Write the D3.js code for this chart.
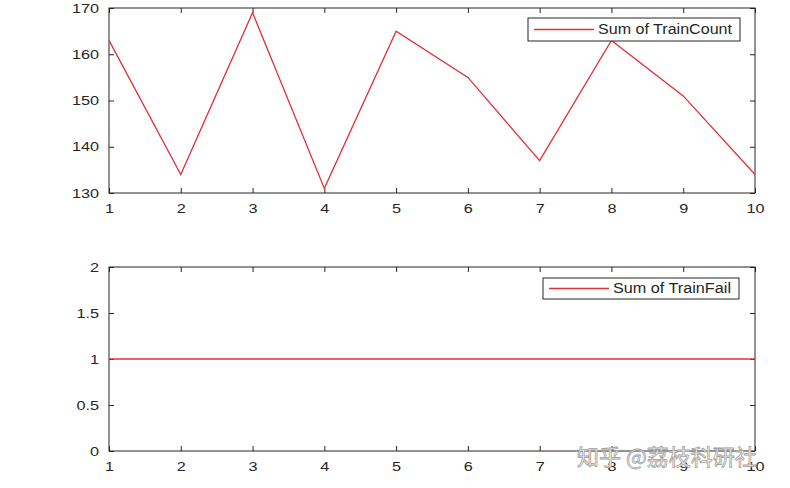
<!DOCTYPE html>
<html lang="en">
<head>
  <meta charset="UTF-8">
  <title>TrainCount / TrainFail</title>
  <script src="https://d3js.org/d3.v7.min.js"></script>
  <style>
    body { margin: 0; background: #fff; }
    svg { display: block; }
    .tick text { font: 13px "Liberation Sans", Arial, sans-serif; fill: #262626; }
    .legend text { font: 14px "Liberation Sans", Arial, sans-serif; fill: #262626; }
    .wm { font: 22px "Noto Sans CJK SC", sans-serif; fill: #fff; stroke: #a0a0a0; stroke-width: 0.8; }
  </style>
</head>
<body>
  <script>
    const xs = [1, 2, 3, 4, 5, 6, 7, 8, 9, 10];
    const trainCount = [163, 134, 169, 131, 165, 155, 137, 163, 151, 134];
    const trainFail = [1, 1, 1, 1, 1, 1, 1, 1, 1, 1];
    const countTicks = [130, 140, 150, 160, 170];
    const failTicks = [0, 0.5, 1, 1.5, 2];

    const W = 790, H = 488;
    const svg = d3.select("body").append("svg").attr("width", W).attr("height", H);

    const x = d3.scaleLinear().domain([1, 10]).range([109, 755]);
    const stretch = "scale(1.25,1)"; // the source picture is a bit wide

    function panel(top, bottom, domain, ticks, values, label, legendBox) {
      const y = d3.scaleLinear().domain(domain).range([bottom, top]);
      const g = svg.append("g");
      const axisCol = "#262626";
      const tl = 5;

      g.append("rect")
        .attr("x", x.range()[0]).attr("y", top)
        .attr("width", x.range()[1] - x.range()[0]).attr("height", bottom - top)
        .attr("fill", "none").attr("stroke", axisCol).attr("stroke-width", 1);

      // bottom + top ticks point inward like matlab
      const bx = g.append("g").attr("transform", `translate(0,${bottom})`)
        .call(d3.axisBottom(x).tickValues(xs).tickSizeInner(-tl).tickSizeOuter(0).tickPadding(11));
      const tx = g.append("g").attr("transform", `translate(0,${top})`)
        .call(d3.axisTop(x).tickValues(xs).tickSizeInner(-tl).tickSizeOuter(0).tickFormat(""));
      const ly = g.append("g").attr("transform", `translate(${x.range()[0]},0)`)
        .call(d3.axisLeft(y).tickValues(ticks).tickSizeInner(-tl).tickSizeOuter(0).tickPadding(8).tickFormat(d3.format("")));
      const ry = g.append("g").attr("transform", `translate(${x.range()[1]},0)`)
        .call(d3.axisRight(y).tickValues(ticks).tickSizeInner(-tl).tickSizeOuter(0).tickFormat(""));

      [bx, tx, ly, ry].forEach(a => {
        a.select(".domain").remove();
        a.selectAll("line").attr("stroke", axisCol);
      });
      bx.selectAll("text").attr("transform", stretch);
      ly.selectAll("text").attr("transform", stretch);

      const line = d3.line().x((d, i) => x(xs[i])).y(d => y(d));
      g.append("path").datum(values)
        .attr("d", line).attr("fill", "none")
        .attr("stroke", "#e0303a").attr("stroke-width", 1.3);

      const lg = g.append("g").attr("class", "legend");
      lg.append("rect")
        .attr("x", legendBox[0]).attr("y", legendBox[1])
        .attr("width", legendBox[2]).attr("height", legendBox[3])
        .attr("fill", "#fff").attr("stroke", axisCol).attr("stroke-width", 1);
      const my = legendBox[1] + legendBox[3] / 2;
      lg.append("line")
        .attr("x1", legendBox[0] + 6).attr("x2", legendBox[0] + 66)
        .attr("y1", my).attr("y2", my)
        .attr("stroke", "#e0303a").attr("stroke-width", 1.3);
      const lt = lg.append("text")
        .attr("x", legendBox[0] + 70).attr("y", my).attr("dy", "0.35em")
        .text(label);
      lt.attr("textLength", legendBox[2] - 78).attr("lengthAdjust", "spacingAndGlyphs");
    }

    panel(8, 193, [130, 170], countTicks, trainCount, "Sum of TrainCount", [528, 18, 212, 23]);
    panel(267, 451, [0, 2], failTicks, trainFail, "Sum of TrainFail", [543, 278, 196, 21]);

    svg.append("text").attr("class", "wm")
      .attr("x", 577).attr("y", 465)
      .text("知乎 @荔枝科研社");
  </script>
</body>
</html>
